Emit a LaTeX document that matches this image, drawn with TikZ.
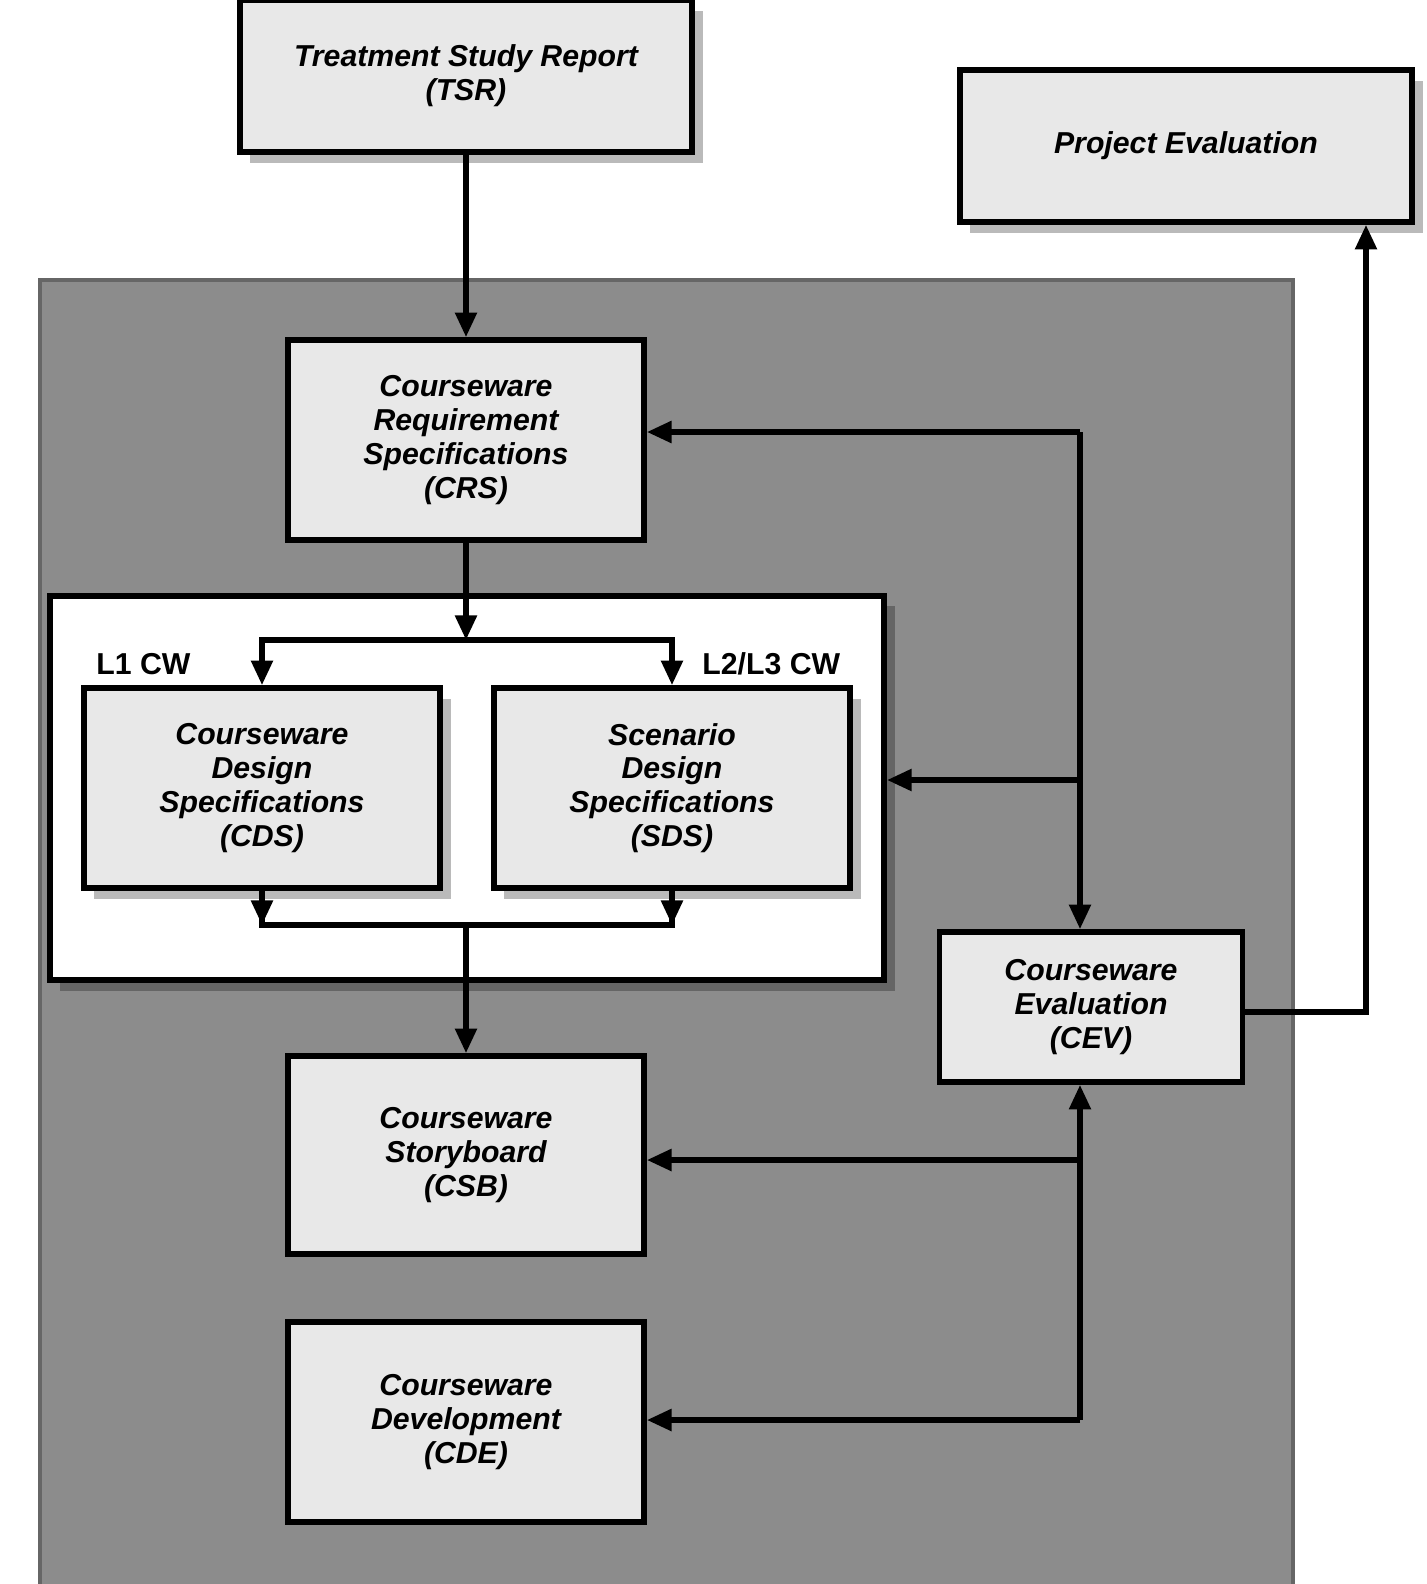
\documentclass[tikz,border=0pt]{standalone}
\usepackage{fontspec}
\setmainfont{Liberation Sans}
\usetikzlibrary{arrows.meta,shadows}
\begin{document}
\begin{tikzpicture}[x=0.01cm,y=-0.01cm,
  box/.style={draw=black,line width=1.6pt,fill=black!9,drop shadow={shadow xshift=3pt,shadow yshift=-3pt,fill=black!45,opacity=0.6},align=center,font=\fontsize{8.6}{9.6}\selectfont\bfseries\itshape},
  conn/.style={line width=1.5pt,-{Triangle[length=7pt,width=6pt]}},
  ln/.style={line width=1.5pt},
  lab/.style={font=\fontsize{8.6}{9.6}\selectfont\bfseries}]
\useasboundingbox (0,0) rectangle (1427,1584);
\fill[white] (0,0) rectangle (1427,1584);
\fill[black!45] (40,280) rectangle (1293,1584);
\draw[line width=1pt,black!60] (40,1584) -- (40,280) -- (1293,280) -- (1293,1584);
\node[box,minimum width=452\pgflinewidth] (tsr) at (466,76) [minimum width=4.52cm,minimum height=1.52cm] {Treatment Study Report\\(TSR)};
\node[box,minimum width=4.52cm,minimum height=1.52cm] (pe) at (1186,146) {Project Evaluation};
\node[box,minimum width=3.56cm,minimum height=2cm] (crs) at (466,440) {Courseware\\Requirement\\Specifications\\(CRS)};
\node[draw=black,line width=1.6pt,fill=white,minimum width=8.34cm,minimum height=3.84cm,drop shadow={shadow xshift=3pt,shadow yshift=-3pt,fill=black!70,opacity=0.6}] (panel) at (467,788) {};
\node[box,minimum width=3.56cm,minimum height=2cm] (cds) at (262,788) {Courseware\\Design\\Specifications\\(CDS)};
\node[box,minimum width=3.56cm,minimum height=2cm] (sds) at (672,788) {Scenario\\Design\\Specifications\\(SDS)};
\node[lab,anchor=west] (l1) at (84,664) {L1 CW};
\node[lab,anchor=west] (l2) at (690,664) {L2/L3 CW};
\node[box,minimum width=3.03cm,minimum height=1.5cm] (cev) at (1091,1007) {Courseware\\Evaluation\\(CEV)};
\node[box,minimum width=3.56cm,minimum height=1.98cm] (csb) at (466,1155) {Courseware\\Storyboard\\(CSB)};
\node[box,minimum width=3.56cm,minimum height=2cm] (cde) at (466,1422) {Courseware\\Development\\(CDE)};
\coordinate (split) at (466,640);
\coordinate (join) at (466,925);
\coordinate (vt) at (1080,432);
\coordinate (vm) at (1080,780);
\coordinate (vb1) at (1080,1160);
\coordinate (vb2) at (1080,1420);
\coordinate (pr) at (1366,1012);
\draw[conn] (tsr.south) -- (crs.north);
\draw[conn] (crs.south) -- (split);
\draw[conn] (split) -| (cds.north);
\draw[conn] (split) -| (sds.north);
\draw[ln] (cds.south) -- (262,925) -- (672,925) -- (sds.south);
\draw[conn] (262,888) -- (262,925);
\draw[conn] (672,888) -- (672,925);
\draw[conn] (join) -- (csb.north);
\draw[conn] (vt) -- (crs.east |- vt);
\draw[conn] (vt) -- (vt |- cev.north);
\draw[conn] (vm) -- (panel.east |- vm);
\draw[conn] (vb2) -- (vb2 |- cev.south);
\draw[conn] (vb1) -- (csb.east |- vb1);
\draw[conn] (vb2) -- (cde.east |- vb2);
\draw[conn] (cev.east |- pr) -- (pr) -- (pr |- pe.south);
\end{tikzpicture}
\end{document}
